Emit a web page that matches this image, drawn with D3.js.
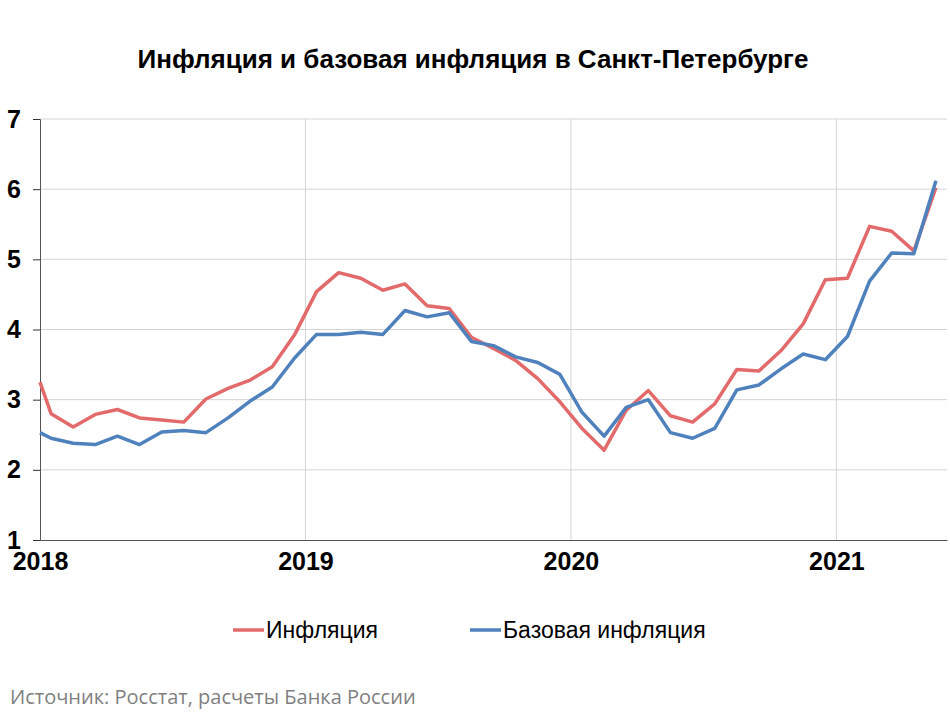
<!DOCTYPE html>
<html>
<head>
<meta charset="utf-8">
<script src="https://cdn.jsdelivr.net/npm/d3@7"></script>
<style>
 body { margin: 0; background: #fff; font-family: "Liberation Sans", Arial, sans-serif; }
</style>
</head>
<body>
<div id="container"></div>
<script>
/* CONSTANTS AND GLOBALS */
const width = 950,
 height = 713;

// month positions: first point at the axis start, then mid-month Jan 2018 .. May 2021
const months = [0].concat(d3.range(41).map(i => i + 0.5));

const inflation = [3.25, 2.8, 2.61, 2.79, 2.86, 2.74, 2.71, 2.68, 3.01, 3.16, 3.28, 3.47, 3.92, 4.54,
 4.81, 4.73, 4.56, 4.65, 4.34, 4.3, 3.89, 3.73, 3.56, 3.3, 2.97, 2.59, 2.28,
 2.85, 3.13, 2.77, 2.68, 2.94, 3.43, 3.41, 3.70, 4.08, 4.71, 4.73, 5.47, 5.40, 5.12, 6.02];

const coreInflation = [2.53, 2.45, 2.38, 2.36, 2.48, 2.36, 2.54, 2.56, 2.53, 2.74, 2.98, 3.18, 3.59, 3.93,
 3.93, 3.96, 3.93, 4.27, 4.18, 4.24, 3.83, 3.77, 3.61, 3.53, 3.36, 2.82, 2.48,
 2.89, 3.0, 2.53, 2.45, 2.59, 3.14, 3.21, 3.44, 3.65, 3.57, 3.9, 4.69, 5.09, 5.08, 6.12];

const yearLabels = ["2018", "2019", "2020", "2021"];
const yTicks = [1, 2, 3, 4, 5, 6, 7];

// SCALES
const xScale = d3.scaleLinear().domain([0, 41]).range([40, 947]);
const yScale = d3.scaleLinear().domain([1, 7]).range([540, 119]);

// CREATE SVG ELEMENT
const svg = d3.select("#container")
 .append("svg")
 .attr("width", width)
 .attr("height", height);

svg.append("text")
 .attr("x", 473).attr("y", 68)
 .attr("text-anchor", "middle")
 .style("font-size", "26px").style("font-weight", "bold")
 .text("Инфляция и базовая инфляция в Санкт-Петербурге");

// GRID
svg.selectAll(".hgrid")
 .data(yTicks.slice(1))
 .join("line")
 .attr("x1", xScale(0)).attr("x2", xScale(41))
 .attr("y1", d => yScale(d)).attr("y2", d => yScale(d))
 .attr("stroke", "#d4d4d4");

svg.selectAll(".vgrid")
 .data(yearLabels.slice(1))
 .join("line")
 .attr("x1", (d, i) => xScale((i + 1) * 12)).attr("x2", (d, i) => xScale((i + 1) * 12))
 .attr("y1", yScale(1)).attr("y2", yScale(7))
 .attr("stroke", "#d4d4d4");

// AXES
const yAxis = svg.append("g")
 .attr("transform", `translate(${xScale(0)},0)`)
 .call(d3.axisLeft(yScale).tickValues(yTicks).tickFormat(d3.format("d")).tickSize(7).tickPadding(12));
yAxis.select(".domain").attr("stroke", "#555");
yAxis.selectAll(".tick line").attr("stroke", "#333");
yAxis.selectAll("text").style("font-size", "25px").style("font-weight", "bold")
 .style("font-family", "Liberation Sans, Arial, sans-serif").attr("fill", "#000");

const xAxis = svg.append("g")
 .attr("transform", `translate(0,${yScale(1)})`)
 .call(d3.axisBottom(xScale).tickValues([0, 12, 24, 36]).tickSize(0).tickPadding(12)
   .tickFormat((d, i) => yearLabels[i]));
xAxis.select(".domain").attr("stroke", "#555");
xAxis.selectAll("text").style("font-size", "25px").style("font-weight", "bold")
 .style("font-family", "Liberation Sans, Arial, sans-serif").attr("fill", "#000");

// LINES
const lineGen = d3.line()
 .x((d, i) => xScale(months[i]))
 .y(d => yScale(d));

const series = [
 { name: "Инфляция", values: inflation, color: "#e26a6a", lx: 233 },
 { name: "Базовая инфляция", values: coreInflation, color: "#4f81bd", lx: 470 }
];

svg.selectAll(".trend")
 .data(series)
 .join("path")
 .attr("class", "trend")
 .attr("fill", "none")
 .attr("stroke", d => d.color)
 .attr("stroke-width", 3.5)
 .attr("stroke-linejoin", "round")
 .attr("d", d => lineGen(d.values));

// LEGEND
const legend = svg.selectAll(".legend")
 .data(series)
 .join("g")
 .attr("transform", d => `translate(${d.lx},630)`);
legend.append("line")
 .attr("x1", 0).attr("x2", 31)
 .attr("stroke", d => d.color).attr("stroke-width", 3.5);
legend.append("text")
 .attr("x", 33).attr("y", 8)
 .style("font-size", "23px")
 .text(d => d.name);

svg.append("text")
 .attr("x", 10).attr("y", 704)
 .attr("fill", "#7f7f7f")
 .style("font-size", "20px")
 .style("font-family", "Open Sans, sans-serif")
 .text("Источник: Росстат, расчеты Банка России");
</script>
</body>
</html>
